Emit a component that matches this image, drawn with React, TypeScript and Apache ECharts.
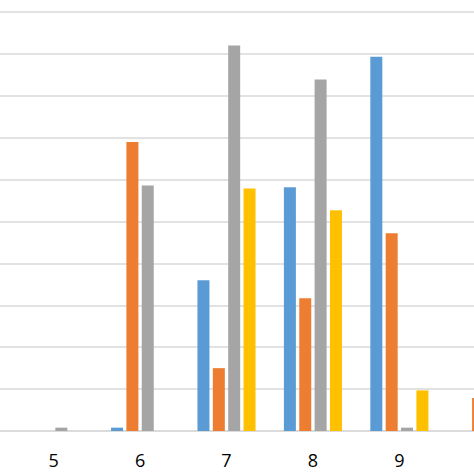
import React, { useEffect, useRef } from "react";
import * as echarts from "echarts";

const categories = ["4", "5", "6", "7", "8", "9", "10"];
const blueValues = [null, null, 0.08, 3.6, 5.82, 8.93, null];
const orangeValues = [null, null, 6.9, 1.5, 3.17, 4.72, 0.79];
const grayValues = [null, 0.08, 5.86, 9.2, 8.39, 0.08, null];
const yellowValues = [null, null, null, 5.79, 5.27, 0.97, null];

const colors = ["#5B9BD5", "#ED7D31", "#A5A5A5", "#FFC000"];

export default function App() {
  const ref = useRef<HTMLDivElement>(null);
  useEffect(() => {
    document.body.style.margin = "0";
    const chart = echarts.init(ref.current!, null, { renderer: "svg" });
    const mk = (name: string, data: (number | null)[], color: string) => ({
      name,
      type: "bar",
      data,
      barWidth: 12,
      barGap: "28%",
      itemStyle: { color },
    });
    const last = categories.length - 1;
    chart.setOption({
      animation: false,
      grid: { left: 0, right: 0, top: 12, bottom: 43 },
      xAxis: {
        type: "category",
        data: categories,
        axisLine: { lineStyle: { color: "#D9D9D9", width: 1.5 } },
        axisTick: { show: false },
        axisLabel: {
          color: "#000",
          fontSize: 18,
          fontFamily: "Open Sans",
          margin: 20,
          interval: (index: number) => index !== 0 && index !== last,
        },
      },
      yAxis: {
        type: "value",
        min: 0,
        max: 10,
        interval: 1,
        axisLabel: { show: false },
        axisLine: { show: false },
        axisTick: { show: false },
        splitLine: { lineStyle: { color: "#D9D9D9", width: 1.5 } },
      },
      series: [
        mk("Series1", blueValues, colors[0]),
        mk("Series2", orangeValues, colors[1]),
        mk("Series3", grayValues, colors[2]),
        mk("Series4", yellowValues, colors[3]),
      ],
    });
    return () => chart.dispose();
  }, []);
  return (
    <div style={{ position: "relative", width: 474, height: 474, overflow: "hidden" }}>
      <div
        ref={ref}
        style={{ position: "absolute", left: -76, top: 0, width: 605, height: 474 }}
      />
    </div>
  );
}
